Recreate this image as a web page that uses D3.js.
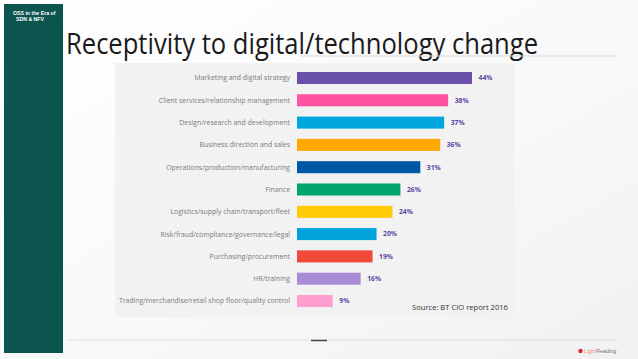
<!DOCTYPE html>
<html><head><meta charset="utf-8">
<script src="https://cdn.jsdelivr.net/npm/d3@7"></script>
<style>html,body{margin:0;padding:0;background:#fff;}svg{display:block;}</style>
</head><body>
<svg id="c" width="638" height="359"></svg>
<script>
const categories = [
  "Marketing and digital strategy",
  "Client services/relationship management",
  "Design/research and development",
  "Business direction and sales",
  "Operations/production/manufacturing",
  "Finance",
  "Logistics/supply chain/transport/fleet",
  "Risk/fraud/compliance/governance/legal",
  "Purchasing/procurement",
  "HR/training",
  "Trading/merchandise/retail shop floor/quality control"
];
const values = [44, 38, 37, 36, 31, 26, 24, 20, 19, 16, 9];
const colors = ["#6a4fab","#ff52a3","#00a7de","#ffa900","#0057a6","#00a56b","#ffcb05","#00a2dc","#f1493a","#a98bd8","#ff9fcf"];
const valueLabels = values.map(v => v + "%");

const svg = d3.select("#c");
const defs = svg.append("defs");
const g1 = defs.append("linearGradient").attr("id","bg").attr("x1","0").attr("y1","0").attr("x2","1").attr("y2","1");
g1.append("stop").attr("offset","0").attr("stop-color","#ffffff");
g1.append("stop").attr("offset","0.6").attr("stop-color","#f8f8f8");
g1.append("stop").attr("offset","1").attr("stop-color","#f1f1f1");
svg.append("rect").attr("width",638).attr("height",359).attr("fill","url(#bg)");

// sidebar
svg.append("rect").attr("x",4).attr("y",4).attr("width",59).attr("height",349).attr("fill","#0c554e");
svg.append("text").attr("x",13).attr("y",15).attr("fill","#fff").attr("font-family","Liberation Sans, Arial, sans-serif")
  .attr("font-size",5.2).attr("font-weight","bold").text("OSS in the Era of");
svg.append("text").attr("x",16).attr("y",21).attr("fill","#fff").attr("font-family","Liberation Sans, Arial, sans-serif")
  .attr("font-size",5.2).attr("font-weight","bold").text("SDN & NFV");

// title
svg.append("text").attr("x",66).attr("y",54).attr("fill","#1a1a1a")
  .attr("font-family","Open Sans, Liberation Sans, sans-serif").attr("font-size",29)
  .attr("textLength",472).attr("lengthAdjust","spacingAndGlyphs")
  .text("Receptivity to digital/technology change");
svg.append("line").attr("x1",300).attr("x2",617).attr("y1",56).attr("y2",56).attr("stroke","#d8d8d8").attr("stroke-width",1);

// panel
svg.append("rect").attr("x",115).attr("y",63).attr("width",400).attr("height",254).attr("fill","#f2f2f2");

const y = d3.scaleBand().domain(categories).range([66.85, 312.15]).paddingInner(0.46).paddingOuter(0.23);
const x = d3.scaleLinear().domain([0, 44]).range([297, 472]);

const rows = svg.append("g").selectAll("g").data(categories).join("g");
rows.append("rect")
  .attr("x", x(0))
  .attr("y", d => y(d))
  .attr("height", y.bandwidth())
  .attr("width", (d,i) => x(values[i]) - x(0))
  .attr("fill", (d,i) => colors[i]);
rows.append("text")
  .attr("x", x(0) - 7)
  .attr("y", d => y(d) + y.bandwidth()/2)
  .attr("dy","0.35em")
  .attr("text-anchor","end")
  .attr("fill","#7a7a7a")
  .attr("font-family","Open Sans, Liberation Sans, sans-serif")
  .attr("font-size",6.9)
  .text(d => d);
rows.append("text")
  .attr("x", (d,i) => x(values[i]) + 6.5)
  .attr("y", d => y(d) + y.bandwidth()/2)
  .attr("dy","0.35em")
  .attr("fill","#5a48a0")
  .attr("font-weight","bold")
  .attr("font-family","Open Sans, Liberation Sans, sans-serif")
  .attr("font-size",6.8)
  .text((d,i) => valueLabels[i]);

svg.append("text").attr("x",412).attr("y",310).attr("fill","#333")
  .attr("font-family","Open Sans, Liberation Sans, sans-serif").attr("font-size",7.6)
  .text("Source: BT CIO report 2016");

// bottom line
svg.append("line").attr("x1",68).attr("x2",616).attr("y1",340).attr("y2",340).attr("stroke","#dddddd").attr("stroke-width",1.2);
svg.append("line").attr("x1",311).attr("x2",327).attr("y1",340.5).attr("y2",340.5).attr("stroke","#444").attr("stroke-width",1.5);

// logo
svg.append("circle").attr("cx",580.5).attr("cy",351).attr("r",2.2).attr("fill","#d8262e");
svg.append("text").attr("x",584).attr("y",353).attr("font-family","Liberation Sans, Arial, sans-serif").attr("font-size",5.5)
  .attr("fill","#e88").text("Light").append("tspan").attr("fill","#777").text("Reading");
</script>
</body></html>
